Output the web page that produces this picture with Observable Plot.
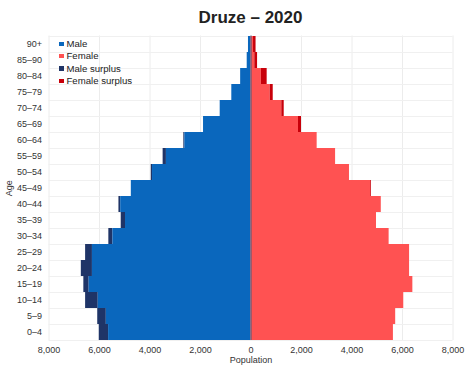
<!DOCTYPE html>
<html>
<head>
<meta charset="utf-8">
<script src="https://cdn.jsdelivr.net/npm/d3@7"></script>
<script src="https://cdn.jsdelivr.net/npm/@observablehq/plot@0.6"></script>
<style>
  html, body { margin: 0; padding: 0; background: #fff; }
  #wrap { position: relative; width: 474px; height: 365px; font-family: "Liberation Sans", Arial, sans-serif; }
  #title { position: absolute; left: 0; width: 501px; top: 8px; text-align: center; font-weight: bold; font-size: 17px; color: #222; }
  #legend { position: absolute; left: 59px; top: 38px; font-size: 9.6px; color: #222; line-height: 12.4px; }
  #legend .sw { display: inline-block; width: 4.5px; height: 4.5px; margin-right: 3px; vertical-align: 1px; }
  #wrap svg { position: absolute; left: 0; top: 0; }
</style>
</head>
<body>
<div id="wrap">
  <div id="chart"></div>
  <div id="title">Druze – 2020</div>
  <div id="legend"></div>
</div>
<script>
const ages = ["0–4","5–9","10–14","15–19","20–24","25–29","30–34","35–39","40–44","45–49","50–54","55–59","60–64","65–69","70–74","75–79","80–84","85–90","90+"];
const male   = [6010, 6070, 6550, 6620, 6720, 6550, 5630, 5140, 5230, 4740, 3950, 3480, 2660, 1880, 1220, 760, 410, 150, 100];
const female = [5640, 5730, 6050, 6410, 6280, 6280, 5470, 4970, 5160, 4770, 3900, 3350, 2620, 2000, 1315, 880, 640, 260, 200];
const xTicks = [-8000, -6000, -4000, -2000, 0, 2000, 4000, 6000, 8000];
const legendLabels = ["Male", "Female", "Male surplus", "Female surplus"];
const colors = { "Male": "#0a67bd", "Female": "#ff5252", "Male surplus": "#1f3467", "Female surplus": "#c8000a" };

const rows = ages.map((a, i) => ({ age: a, male: male[i], female: female[i], common: Math.min(male[i], female[i]) }));
const fmt = d3.format(",");

const chart = Plot.plot({
  width: 474,
  height: 365,
  marginTop: 35.5,
  marginBottom: 25,
  marginLeft: 48.5,
  marginRight: 21.5,
  style: { fontFamily: "Liberation Sans, Arial, sans-serif", fontSize: "9px", color: "#333", background: "transparent" },
  x: { domain: [-8000, 8000], ticks: xTicks, tickFormat: d => fmt(Math.abs(d)), tickSize: 0, tickPadding: 6, label: null },
  y: { domain: ages.slice().reverse(), padding: 0, tickSize: 0, tickPadding: 7, label: null },
  marks: [
    Plot.ruleX(xTicks, { stroke: "#ececec", strokeWidth: 1 }),
    Plot.ruleY(ages, { y: d => d, dy: 8.01, stroke: "#f0f0f0" }),
    Plot.ruleY(["90+"], { y: d => d, dy: -8.01, stroke: "#f0f0f0" }),
    Plot.barX(rows.filter(r => r.male > r.female), { y: "age", x1: r => -r.male, x2: r => -r.common, fill: colors["Male surplus"] }),
    Plot.barX(rows, { y: "age", x1: r => -r.common, x2: 0, fill: colors["Male"] }),
    Plot.barX(rows, { y: "age", x1: 0, x2: r => r.common, fill: colors["Female"] }),
    Plot.barX(rows.filter(r => r.female > r.male), { y: "age", x1: r => r.common, x2: r => r.female, fill: colors["Female surplus"] }),
    Plot.ruleX([0], { stroke: "#4a5a7a", strokeWidth: 1 }),
    Plot.axisX({ ticks: xTicks, tickFormat: d => fmt(Math.abs(d)), tickSize: 0, tickPadding: 6, label: "Population", labelAnchor: "center", labelOffset: 22, labelArrow: "none" }),
    Plot.axisY({ tickSize: 0, tickPadding: 7, label: "Age", labelAnchor: "center", labelOffset: 43, labelArrow: "none" })
  ]
});
document.getElementById("chart").appendChild(chart);

const lg = document.getElementById("legend");
legendLabels.forEach(l => {
  const d = document.createElement("div");
  d.innerHTML = `<span class="sw" style="background:${colors[l]}"></span>${l}`;
  lg.appendChild(d);
});
</script>
</body>
</html>
